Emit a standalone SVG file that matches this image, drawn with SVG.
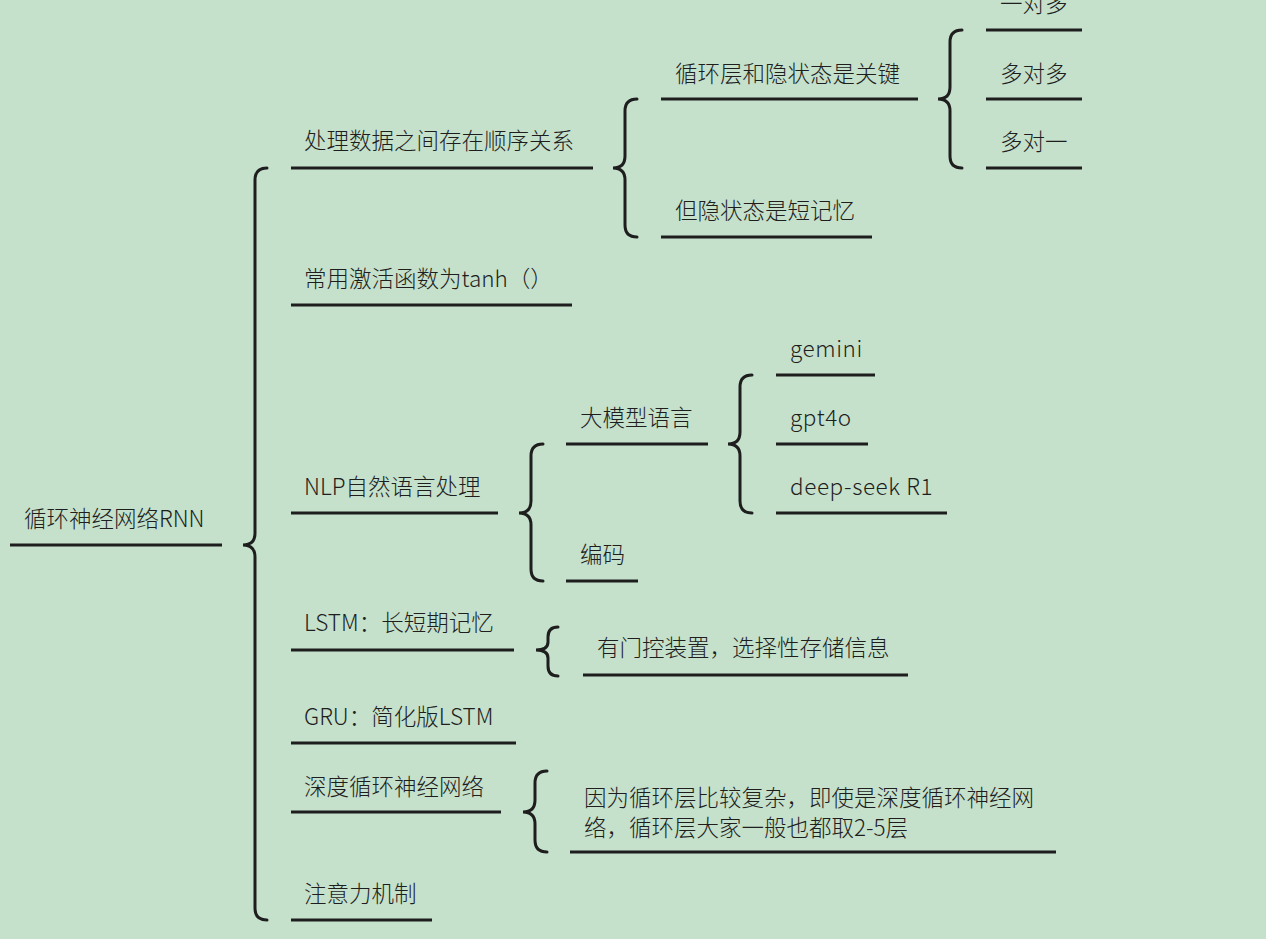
<svg xmlns="http://www.w3.org/2000/svg" width="1266" height="939" viewBox="0 0 1266 939">
<style>
text{font-family:"Noto Sans CJK SC","Noto Sans",sans-serif;font-size:22.5px;font-weight:300;fill:#1e1e1e}
.l{letter-spacing:0.6px}
.u{stroke:#1e1e1e;stroke-width:3;fill:none}
.b{stroke:#1e1e1e;stroke-width:3;fill:none;stroke-linecap:round}
</style>
<rect width="1266" height="939" fill="#c5e1cb"/>
<g id="connectors">
<path class="b" d="M267 168 Q255 168 255 180 L255 533 Q255 545 243 545 Q255 545 255 557 L255 908 Q255 920 267 920"/>
<path class="b" d="M637 99 Q625 99 625 111 L625 156 Q625 168 613 168 Q625 168 625 180 L625 225 Q625 237 637 237"/>
<path class="b" d="M962 30 Q950 30 950 42 L950 87 Q950 99 938 99 Q950 99 950 111 L950 156 Q950 168 962 168"/>
<path class="b" d="M543 444 Q531 444 531 456 L531 501 Q531 513 519 513 Q531 513 531 525 L531 569 Q531 581 543 581"/>
<path class="b" d="M752 375 Q740 375 740 387 L740 432 Q740 444 728 444 Q740 444 740 456 L740 501 Q740 513 752 513"/>
<path class="b" d="M558 627 Q548 627 548 637 L548 642 Q548 650 536 650 Q548 650 548 658 L548 666 Q548 676 558 676"/>
<path class="b" d="M547 771 Q535 771 535 783 L535 800 Q535 812 523 812 Q535 812 535 824 L535 840 Q535 852 547 852"/>
</g>
<g id="root"><text x="24" y="527">循环神经网络RNN</text><path class="u" d="M10 545H222"/></g>
<g id="n1"><text x="304" y="149">处理数据之间存在顺序关系</text><path class="u" d="M291 168H593"/></g>
<g id="n1a"><text x="675" y="82">循环层和隐状态是关键</text><path class="u" d="M661 99H918"/></g>
<g id="n1a1"><text x="1000" y="12">一对多</text><path class="u" d="M986 30H1082"/></g>
<g id="n1a2"><text x="1000" y="82">多对多</text><path class="u" d="M986 99H1082"/></g>
<g id="n1a3"><text x="1000" y="150">多对一</text><path class="u" d="M986 168H1082"/></g>
<g id="n1b"><text x="675" y="219">但隐状态是短记忆</text><path class="u" d="M661 237H872"/></g>
<g id="n2"><text x="304" y="287">常用激活函数为tanh（）</text><path class="u" d="M291 305H572"/></g>
<g id="n3"><text x="304" y="495">NLP自然语言处理</text><path class="u" d="M291 513H498"/></g>
<g id="n3a"><text x="580" y="426">大模型语言</text><path class="u" d="M566 444H708"/></g>
<g id="n3a1"><text class="l" x="790" y="357">gemini</text><path class="u" d="M776 375H875"/></g>
<g id="n3a2"><text class="l" x="790" y="426">gpt4o</text><path class="u" d="M776 444H868"/></g>
<g id="n3a3"><text class="l" x="790" y="495">deep-seek R1</text><path class="u" d="M776 513H947"/></g>
<g id="n3b"><text x="580" y="563">编码</text><path class="u" d="M566 581H638"/></g>
<g id="n4"><text x="304" y="631">LSTM：长短期记忆</text><path class="u" d="M291 650H514"/></g>
<g id="n4a"><text x="597" y="656">有门控装置，选择性存储信息</text><path class="u" d="M583 675H908"/></g>
<g id="n5"><text x="304" y="725">GRU：简化版LSTM</text><path class="u" d="M291 743H516"/></g>
<g id="n6"><text x="304" y="795">深度循环神经网络</text><path class="u" d="M291 812H501"/></g>
<g id="n6a"><text x="584" y="806">因为循环层比较复杂，即使是深度循环神经网</text><text x="584" y="836">络，循环层大家一般也都取2-5层</text><path class="u" d="M570 852H1056"/></g>
<g id="n7"><text x="304" y="902">注意力机制</text><path class="u" d="M291 920H432"/></g>
</svg>
